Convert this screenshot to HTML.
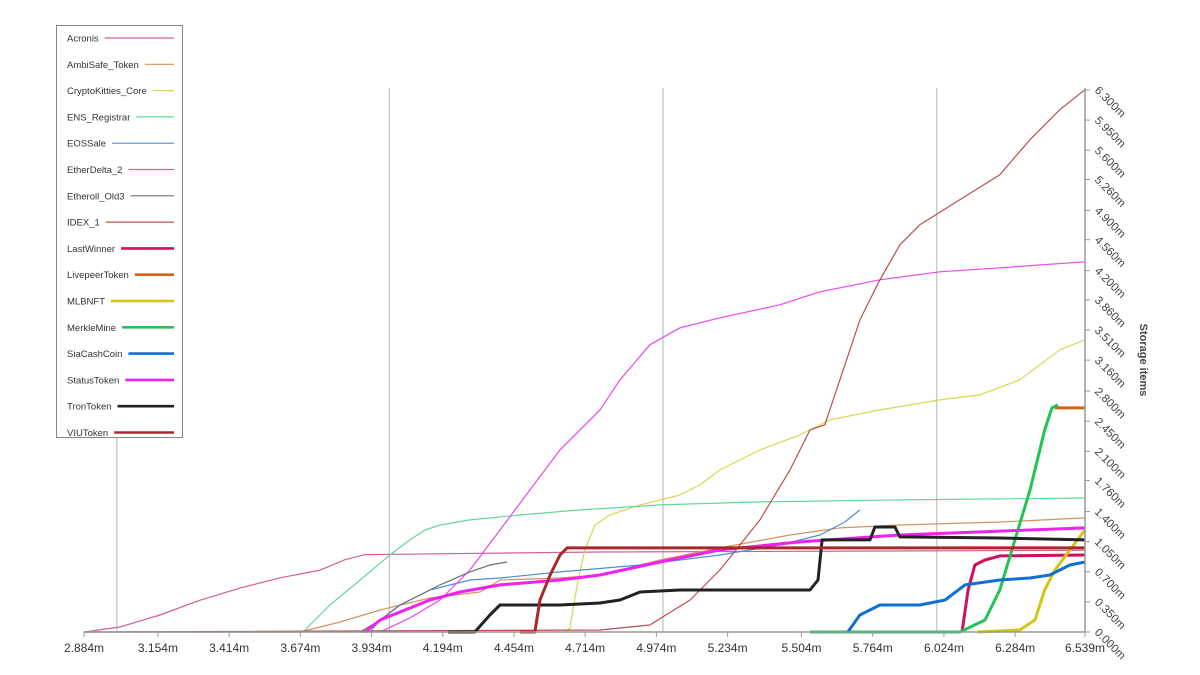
<!DOCTYPE html>
<html><head><meta charset="utf-8"><style>
body{margin:0;background:#fff;font-family:"Liberation Sans",sans-serif}
svg{display:block}
</style></head><body>
<svg id="chart" width="1200" height="675" xmlns="http://www.w3.org/2000/svg">
<g id="grid"></g>
<g id="series"></g>
<g id="axes"></g>
<g id="legend"></g>
</svg>
<script>
const xTicks=[2.884,3.154,3.414,3.674,3.934,4.194,4.454,4.714,4.974,5.234,5.504,5.764,6.024,6.284,6.539];
const yTicks=[0,0.35,0.7,1.05,1.4,1.76,2.1,2.45,2.8,3.16,3.51,3.86,4.2,4.56,4.9,5.26,5.6,5.95,6.3];
const yTickLabels=["0.000m","0.350m","0.700m","1.050m","1.400m","1.760m","2.100m","2.450m","2.800m","3.160m","3.510m","3.860m","4.200m","4.560m","4.900m","5.260m","5.600m","5.950m","6.300m"];
const gridX=[3.004,3.999,4.998,5.998];
const names=["Acronis","AmbiSafe_Token","CryptoKitties_Core","ENS_Registrar","EOSSale","EtherDelta_2","Etheroll_Old3","IDEX_1","LastWinner","LivepeerToken","MLBNFT","MerkleMine","SiaCashCoin","StatusToken","TronToken","VIUToken"];
const colors=["#d2609c","#d4935e","#d6d850","#62d89c","#4a8fd2","#ea48ea","#707070","#b85050","#d0105c","#d86010","#d4c414","#22c456","#1270d0","#f020f0","#222222","#a82828"];
const widths=[1.2,1.2,1.2,1.2,1.2,1.2,1.2,1.2,3,3,3,3,3,3,3,3];
const sx=[
[2.884,3.015,3.161,3.308,3.454,3.60,3.746,3.837,3.91,4.768,6.539],
[2.884,3.673,3.819,3.965,4.147,4.33,4.403,4.622,4.768,4.987,5.206,5.462,5.644,5.863,6.228,6.539],
[2.884,4.64,4.658,4.688,4.713,4.75,4.804,4.914,5.06,5.133,5.206,5.352,5.498,5.608,5.79,6.009,6.155,6.301,6.447,6.539],
[2.884,3.673,3.691,3.782,3.892,4.001,4.074,4.129,4.184,4.293,4.476,4.695,4.987,5.352,5.863,6.539],
[3.928,3.965,4.038,4.147,4.293,4.403,4.622,4.914,5.206,5.425,5.571,5.662,5.717],
[3.965,4.074,4.184,4.293,4.403,4.512,4.622,4.695,4.768,4.841,4.95,5.06,5.206,5.425,5.571,5.79,6.009,6.228,6.539],
[3.892,3.965,4.038,4.111,4.184,4.293,4.366,4.428],
[2.884,4.768,4.95,5.097,5.206,5.352,5.462,5.535,5.589,5.644,5.717,5.79,5.863,5.936,6.082,6.228,6.338,6.447,6.539],
[6.09,6.112,6.137,6.174,6.228,6.539],
[6.429,6.539],
[6.148,6.301,6.356,6.392,6.429,6.484,6.539],
[5.535,6.082,6.174,6.228,6.283,6.338,6.392,6.418,6.44],
[5.673,5.717,5.79,5.936,6.028,6.101,6.228,6.338,6.411,6.484,6.539],
[3.91,3.965,4.038,4.147,4.257,4.403,4.622,4.768,4.987,5.206,5.498,5.863,6.539],
[4.213,4.311,4.366,4.403,4.622,4.768,4.841,4.914,5.06,5.352,5.535,5.564,5.579,5.754,5.772,5.845,5.863,6.228,6.539],
[4.476,4.53,4.549,4.586,4.622,4.648,6.539]];
const sy=[
[0,0.058,0.198,0.37,0.51,0.63,0.72,0.84,0.9,0.93,0.95],
[0,0,0.116,0.256,0.395,0.465,0.605,0.628,0.663,0.837,0.977,1.128,1.21,1.244,1.279,1.326],
[0,0,0.047,0.605,0.954,1.244,1.36,1.477,1.593,1.71,1.884,2.117,2.291,2.466,2.582,2.698,2.756,2.931,3.28,3.396],
[0,0,0.023,0.314,0.605,0.895,1.07,1.186,1.244,1.303,1.36,1.419,1.477,1.512,1.535,1.558],
[0,0.14,0.314,0.488,0.605,0.628,0.698,0.779,0.895,1.012,1.128,1.279,1.419],
[0,0.163,0.372,0.721,1.186,1.651,2.117,2.349,2.582,2.931,3.338,3.536,3.652,3.803,3.954,4.094,4.187,4.233,4.303],
[0,0.14,0.314,0.43,0.547,0.698,0.779,0.814],
[0,0.023,0.081,0.372,0.721,1.303,1.884,2.349,2.408,2.931,3.628,4.094,4.501,4.734,5.024,5.315,5.722,6.071,6.303],
[0,0.488,0.779,0.837,0.884,0.895],
[2.605,2.605],
[0,0.023,0.14,0.488,0.721,0.954,1.186],
[0,0,0.14,0.488,1.07,1.651,2.349,2.605,2.64],
[0,0.198,0.314,0.314,0.372,0.547,0.605,0.628,0.663,0.779,0.814],
[0,0.14,0.233,0.372,0.465,0.547,0.605,0.663,0.814,0.954,1.047,1.128,1.21],
[0,0,0.198,0.314,0.314,0.337,0.372,0.465,0.488,0.488,0.488,0.605,1.07,1.07,1.221,1.221,1.105,1.093,1.07],
[0,0,0.372,0.663,0.895,0.977,0.977]];
const X0=84,X1=1085,Y0=632,Y1=90,xmin=2.884,xmax=6.539,ymax=6.3;
const xs=v=>X0+(v-xmin)/(xmax-xmin)*(X1-X0);
const ys=v=>Y0-v/ymax*(Y0-Y1);
const NS="http://www.w3.org/2000/svg";
function mk(t,a,p){const e=document.createElementNS(NS,t);for(const k in a)e.setAttribute(k,a[k]);p.appendChild(e);return e;}
const grid=document.getElementById('grid'),ser=document.getElementById('series'),axes=document.getElementById('axes'),leg=document.getElementById('legend');
gridX.forEach(v=>{const l=mk('line',{x1:xs(v),x2:xs(v),y1:88,y2:Y0,stroke:'#b8c4c0','stroke-width':1.2},grid);

});
names.forEach((n,i)=>{const d=sx[i].map((v,j)=>(j?'L':'M')+xs(v).toFixed(1)+','+ys(sy[i][j]).toFixed(1)).join('');
const p=mk('path',{d:d,fill:'none',stroke:colors[i],'stroke-width':widths[i],'stroke-linejoin':'round'},ser);

});
mk('line',{x1:X0,x2:X1,y1:Y0,y2:Y0,stroke:'#999','stroke-width':1.5},axes);
mk('line',{x1:X1,x2:X1,y1:88,y2:Y0,stroke:'#999','stroke-width':1.5},axes);
xTicks.forEach(v=>{mk('line',{x1:xs(v),x2:xs(v),y1:Y0,y2:Y0+5,stroke:'#999'},axes);
const t=mk('text',{x:xs(v),y:652,'text-anchor':'middle','font-size':12,fill:'#333'},axes);t.textContent=v.toFixed(3)+'m';

});
yTicks.forEach((v,i)=>{const y=ys(v);mk('line',{x1:X1,x2:X1+5,y1:y,y2:y,stroke:'#999'},axes);
const t=mk('text',{x:X1+9,y:y+1,'font-size':11.5,fill:'#444',transform:`rotate(45 ${X1+9} ${y+1})`},axes);t.textContent=yTickLabels[i];

});
const yt=mk('text',{x:1140,y:360,'font-size':11,fill:'#444','font-weight':'bold','text-anchor':'middle',transform:'rotate(90 1140 360)'},axes);yt.textContent='Storage items';


const box=mk('rect',{x:56.5,y:25.5,width:126,height:412,fill:'#fff',stroke:'#888'},leg);


names.forEach((n,i)=>{const y=38+i*26.3;const g=mk('g',{},leg);


const t=mk('text',{x:67,y:y+3.5,'font-size':9.5,fill:'#333'},g);t.textContent=n;
const w=t.getComputedTextLength();
mk('line',{x1:67+w+6,x2:174,y1:y,y2:y,stroke:colors[i],'stroke-width':widths[i]>2?2.6:1.2},g);});
</script>
</body></html>
